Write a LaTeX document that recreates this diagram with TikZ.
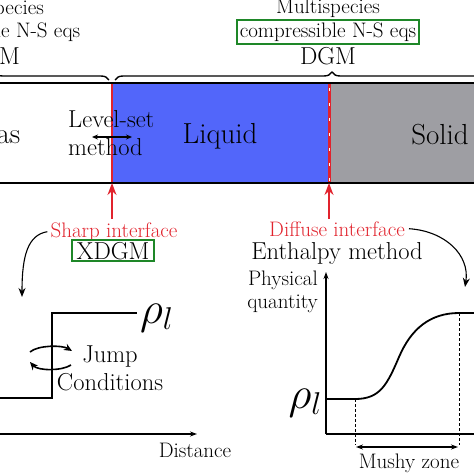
\RequirePackage{fix-cm}
\documentclass[tikz,border=0pt]{standalone}
\usetikzlibrary{arrows.meta,decorations.pathreplacing,positioning}
\definecolor{liquidblue}{RGB}{82,102,250}
\definecolor{solidgray}{RGB}{158,158,163}
\definecolor{ifred}{RGB}{225,35,45}
\definecolor{boxgreen}{RGB}{30,135,40}

\begin{document}
\begin{tikzpicture}[
    x=1pt, y=-1pt,
    every node/.style={inner sep=0pt},
    % tekstgroottes
    txtsmall/.style={font=\fontsize{21}{23}\selectfont},
    txtmed/.style={font=\fontsize{24.5}{28}\selectfont},
    txtphase/.style={font=\fontsize{29}{33}\selectfont},
    txtrho/.style={font=\fontsize{45}{48}\selectfont},
    % kaders en lijnen
    greenbox/.style={draw=boxgreen, line width=2pt, inner xsep=3pt, inner ysep=2.5pt},
    redlabel/.style={txtsmall, text=ifred},
    brace/.style={decorate, decoration={brace, amplitude=8pt}, line width=1.4pt},
    border/.style={line width=2pt},
    ifarrow/.style={draw=ifred, line width=1.6pt, -{Stealth[length=12pt, width=9pt]}},
    curvarrow/.style={line width=1.1pt, -{Stealth[length=9pt, width=7pt]}},
    lsarrow/.style={line width=1.3pt, {Stealth[length=6pt, width=5pt]}-{Stealth[length=6pt, width=5pt]}},
    jumparrow/.style={line width=1.6pt, -{Stealth[length=8pt, width=7pt]}},
    plotline/.style={line width=1.8pt},
    axisarrow/.style={line width=1.5pt, -{Stealth[length=7pt, width=5pt]}},
    mushyline/.style={line width=0.8pt, dash pattern=on 3pt off 2pt},
    mushyarrow/.style={line width=1.2pt, {Stealth[length=7pt, width=5pt]}-{Stealth[length=7pt, width=5pt]}}
]
\useasboundingbox (0,0) rectangle (474,474);
\clip (0,0) rectangle (474,474);

% --- Vergelijkingen en methodes bovenaan ---
\node[txtsmall, anchor=base] (multiL) at (-8,14) {Multispecies};
\node[txtsmall, anchor=base] (nsL) at (-8,37) {compressible N-S eqs};
\node[txtmed, anchor=base] (dgmL) at (-8,64) {DGM};
\node[txtsmall, anchor=base] (multiR) at (328,13) {Multispecies};
\node[txtsmall, greenbox, anchor=base] (nsR) at (328,37) {compressible N-S eqs};
\node[txtmed, anchor=base] (dgmR) at (328,64) {DGM};

\coordinate (braceLa) at (-120,80);
\coordinate (braceLb) at (109,80);
\coordinate (braceRa) at (115,80);
\coordinate (braceRb) at (549,80);
\draw[brace] (braceLa) -- (braceLb);
\draw[brace] (braceRa) -- (braceRb);

% --- Balk met de fasen ---
\fill[white] (-20,83) rectangle (112,183);
\fill[liquidblue] (112,83) rectangle (329,183);
\fill[solidgray] (329,83) rectangle (500,183);
\coordinate (sharpTop) at (112,83);
\coordinate (sharpBot) at (112,183);
\coordinate (diffTop) at (329,83);
\coordinate (diffBot) at (329,183);
\draw[ifred, line width=2.5pt] (sharpTop) -- (sharpBot);
\draw[ifred, line width=3pt] (diffTop) -- (diffBot);
\draw[white, line width=0.9pt, dash pattern=on 3pt off 12pt, dash phase=-5pt] (diffTop) -- (diffBot);
\draw[border] (-20,83) -- (500,83);
\draw[border] (-20,183) -- (500,183);

\node[txtphase, anchor=base] (gas) at (-2,143) {Gas};
\node[txtphase, anchor=base] (liquid) at (220,143) {Liquid};
\node[txtphase, anchor=base] (solid) at (440,144) {Solid};
\node[txtmed, align=left, anchor=west] (levelset) at (68,133.5) {Level-set\\method};
\coordinate (lsL) at (92,137);
\coordinate (lsR) at (132,137);
\draw[lsarrow] (lsL) -- (lsR);

% --- Interfaces ---
\node[redlabel, anchor=base] (sharpLbl) at (114,237) {Sharp interface};
\node[txtmed, greenbox, inner xsep=5pt, inner ysep=1.5pt, anchor=base] (xdgm) at (113,259) {XDGM};
\node[redlabel, anchor=base] (diffLbl) at (337,236) {Diffuse interface};
\node[txtmed, anchor=base] (enthalpy) at (337,259.5) {Enthalpy method};
\coordinate (sharpTail) at (112,219);
\coordinate (diffTail) at (329,219);
\draw[ifarrow] (sharpTail) -- (sharpBot);
\draw[ifarrow] (diffTail) -- (diffBot);

\coordinate (leftPlotIn) at (22,297);
\coordinate (rightPlotIn) at (465,287);
\draw[curvarrow] ([xshift=-3pt]sharpLbl.west) .. controls (28,235) and (22,255) .. (leftPlotIn);
\draw[curvarrow] ([xshift=4pt]diffLbl.east) .. controls (445,231) and (470,255) .. (rightPlotIn);

% --- Links: sprong in de dichtheid ---
\draw[plotline] (-10,398) -- (52,398) -- (52,313) -- (137,313);
\node[txtrho, anchor=base west] (rhoL) at (140,323) {$\rho_l$};
\coordinate (jumpA) at (30,352);
\coordinate (jumpB) at (72,351);
\coordinate (jumpC) at (71,365);
\coordinate (jumpD) at (30,362);
\draw[jumparrow] (jumpA) .. controls (38,345) and (62,345) .. (jumpB);
\draw[jumparrow] (jumpC) .. controls (62,371) and (38,371) .. (jumpD);
\node[txtmed, align=center, anchor=north] (jump) at (110,345.5) {Jump\\Conditions};
\coordinate (distStart) at (-10,434);
\coordinate (distEnd) at (197,434);
\draw[axisarrow] (distStart) -- (distEnd);
\node[txtsmall, anchor=base] (distance) at (195,457) {Distance};

% --- Rechts: enthalpiemethode ---
\coordinate (origin) at (326,434);
\coordinate (yEnd) at (326,272);
\coordinate (xEnd) at (490,434);
\draw[axisarrow] (origin) -- (yEnd);
\draw[plotline] (origin) -- (xEnd);
\node[txtsmall, align=right, anchor=north east] (quantity) at (318,270.5) {Physical\\quantity};
\node[txtrho, anchor=base east] (rhoR) at (322,408) {$\rho_l$};
\coordinate (mushStart) at (355,399);
\coordinate (mushEnd) at (459,313);
\draw[plotline] (326,399) -- (mushStart) .. controls (380,399) and (387,385) .. (399,357)
    .. controls (411,329) and (430,313) .. (mushEnd) -- (490,313);
\draw[mushyline] (mushStart) -- (mushStart |- 0,445);
\draw[mushyline] (mushEnd) -- (mushEnd |- 0,445);
\coordinate (mushL) at (356,447);
\coordinate (mushR) at (458,447);
\draw[mushyarrow] (mushL) -- (mushR);
\node[txtsmall, anchor=base] (mushy) at (409,468) {Mushy zone};

\end{tikzpicture}
\end{document}
